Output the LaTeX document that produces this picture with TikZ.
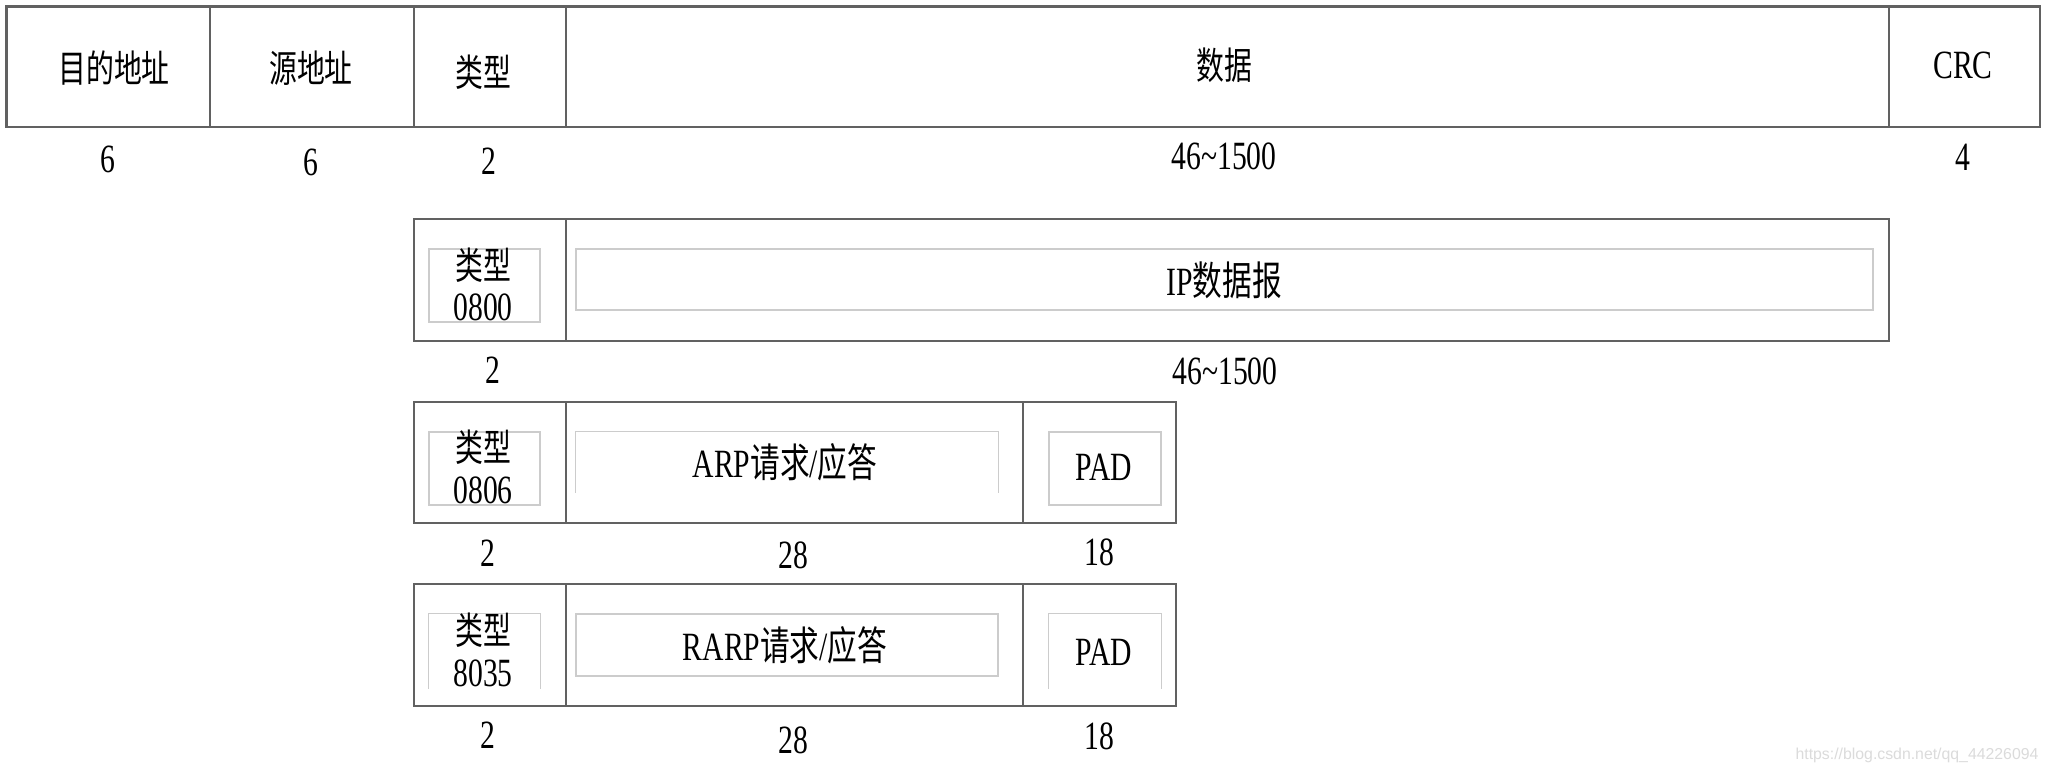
\documentclass[tikz,border=0pt]{standalone}
\usepackage{fontspec}
\setmainfont{Liberation Serif}[FakeStretch=0.74]
\newfontfamily\cjk{Noto Sans CJK SC}[FakeStretch=0.74]
\newfontfamily\wmfont{Liberation Sans}
\usetikzlibrary{fit}
\newcommand{\zh}[1]{{\cjk #1}}
\begin{document}
\begin{tikzpicture}[x=0.01cm,y=-0.01cm,
  cellbox/.style={draw=black!62,line width=0.6pt,inner sep=0pt},
  innerbox/.style={draw=black!20,line width=0.35pt,inner sep=0pt},
  openbox/.style={inner sep=0pt},
  lbl/.style={inner sep=0pt,anchor=center,font=\fontsize{11.4}{13}\selectfont},
  zlbl/.style={inner sep=0pt,anchor=center,font=\fontsize{10.7}{13}\selectfont\cjk},
  wm/.style={inner sep=0pt,anchor=center,text=black!14,font=\fontsize{4.5}{5}\selectfont\wmfont}]
\useasboundingbox (0,0) rectangle (2048,773);
\fill[white] (0,0) rectangle (2048,773);

% ---------- row 1: Ethernet frame ----------
\node[cellbox,fit={(6.5,6.5) (210,127)}] (dst) {};
\node[cellbox,fit={(210,6.5) (414,127)}] (src) {};
\node[cellbox,fit={(414,6.5) (566,127)}] (typ) {};
\node[cellbox,fit={(566,6.5) (1889,127)}] (dat) {};
\node[cellbox,fit={(1889,6.5) (2040,127)}] (crc) {};
\node[zlbl] (tdst) at (114,68) {目的地址};
\node[zlbl] (tsrc) at (311,68) {源地址};
\node[zlbl] (ttyp) at (483,72) {类型};
\node[zlbl] (tdat) at (1224,65) {数据};
\node[lbl] (tcrc) at (1963,65) {CRC};
\node[lbl] (n1a) at (108,159) {6};
\node[lbl] (n1b) at (311,162) {6};
\node[lbl] (n1c) at (489,161) {2};
\node[lbl] (n1d) at (1224,156) {46\textasciitilde1500};
\node[lbl] (n1e) at (1963,157) {4};

% ---------- row 2: IP ----------
\node[cellbox,fit={(414,219) (566,341)}] (ipt) {};
\node[cellbox,fit={(566,219) (1889,341)}] (ipd) {};
\node[innerbox,fit={(429,249) (540,322)}] (ipti) {};
\node[innerbox,fit={(576,249) (1873,310)}] (ipdi) {};
\node[zlbl] (t2a) at (483,265) {类型};
\node[lbl] (t2b) at (483,307) {0800};
\node[lbl] (t2c) at (1224,280) {IP\zh{数据报}};
\node[lbl] (n2a) at (493,370) {2};
\node[lbl] (n2b) at (1225,371) {46\textasciitilde1500};

% ---------- row 3: ARP ----------
\node[cellbox,fit={(414,402) (566,523)}] (arpt) {};
\node[cellbox,fit={(566,402) (1023,523)}] (arpd) {};
\node[cellbox,fit={(1023,402) (1176,523)}] (arpp) {};
\node[innerbox,fit={(429,432) (540,505)}] (arpti) {};
\node[openbox,fit={(576,432) (998,492)}] (arpdi) {};
\draw[draw=black!20,line width=0.35pt] (arpdi.south west) |- (arpdi.north east) -- (arpdi.south east);
\node[innerbox,fit={(1049,432) (1161,505)}] (arppi) {};
\node[zlbl] (t3a) at (483,447) {类型};
\node[lbl] (t3b) at (483,490) {0806};
\node[lbl] (t3c) at (785,462) {ARP\zh{请求}/\zh{应答}};
\node[lbl] (t3d) at (1104,467) {PAD};
\node[lbl] (n3a) at (488,553) {2};
\node[lbl] (n3b) at (793,555) {28};
\node[lbl] (n3c) at (1099,552) {18};

% ---------- row 4: RARP ----------
\node[cellbox,fit={(414,584) (566,706)}] (rarpt) {};
\node[cellbox,fit={(566,584) (1023,706)}] (rarpd) {};
\node[cellbox,fit={(1023,584) (1176,706)}] (rarpp) {};
\node[openbox,fit={(429,614) (540,688)}] (rarpti) {};
\draw[draw=black!20,line width=0.35pt] (rarpti.south west) |- (rarpti.north east) -- (rarpti.south east);
\node[innerbox,fit={(576,614) (998,676)}] (rarpdi) {};
\node[openbox,fit={(1049,614) (1161,688)}] (rarppi) {};
\draw[draw=black!20,line width=0.35pt] (rarppi.south west) |- (rarppi.north east) -- (rarppi.south east);
\node[zlbl] (t4a) at (483,630) {类型};
\node[lbl] (t4b) at (483,673) {8035};
\node[lbl] (t4c) at (785,645) {RARP\zh{请求}/\zh{应答}};
\node[lbl] (t4d) at (1104,652) {PAD};
\node[lbl] (n4a) at (488,735) {2};
\node[lbl] (n4b) at (793,740) {28};
\node[lbl] (n4c) at (1099,736) {18};

% ---------- watermark ----------
\node[wm] (wmk) at (1917,755) {https://blog.csdn.net/qq\_44226094};
\end{tikzpicture}
\end{document}
